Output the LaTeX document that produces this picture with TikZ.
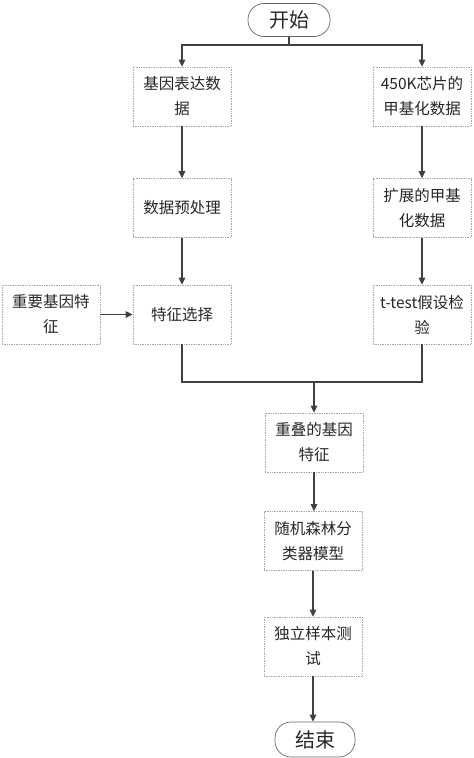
\documentclass[tikz,border=0pt]{standalone}
\usepackage{fontspec}
\newfontfamily\cjk{Noto Sans CJK SC}
\usetikzlibrary{arrows.meta}
\begin{document}
\begin{tikzpicture}[x=1pt,y=-1pt,
  box/.style={draw=black!35, densely dotted, line width=0.7pt, minimum width=98pt, minimum height=59pt, align=center, font=\cjk\fontsize{15.5}{25}\selectfont, text=black!85, inner sep=1pt},
  term/.style={draw=black!60, line width=0.7pt, rounded corners=16pt, minimum width=82pt, minimum height=33pt, font=\cjk\fontsize{20}{22}\selectfont, text=black!85, inner sep=1pt},
  arr/.style={draw=black!75, line width=1.2pt, -{Triangle[length=7pt,width=6.5pt]}},
  ln/.style={draw=black!75, line width=1.2pt}]
\useasboundingbox (0,0) rectangle (474,758);
\node[term] (start) at (289,20) {开始};
\node[box] (b1) at (182,96.5) {基因表达数\\据};
\node[box] (b2) at (182,208) {数据预处理};
\node[box] (b3) at (182,314.5) {特征选择};
\node[box] (side) at (51,314.5) {重要基因特\\征};
\node[box] (r1) at (422,96.5) {450K芯片的\\甲基化数据};
\node[box] (r2) at (422,208) {扩展的甲基\\化数据};
\node[box] (r3) at (422,314.5) {t-test假设检\\验};
\node[box] (m1) at (314,442.5) {重叠的基因\\特征};
\node[box] (m2) at (313,541) {随机森林分\\类器模型};
\node[box] (m3) at (313,646.5) {独立样本测\\试};
\node[term, minimum width=80pt, minimum height=35pt] (end) at (315,739.5) {结束};
\coordinate (j1) at (289,45);
\coordinate (j2) at (314,382);
\draw[ln] (start.south) -- (j1);
\draw[arr] (j1) -| (b1.north);
\draw[arr] (j1) -| (r1.north);
\draw[arr] (b1) -- (b2);
\draw[arr] (b2) -- (b3);
\draw[arr] (r1) -- (r2);
\draw[arr] (r2) -- (r3);
\draw[arr] (side) -- (b3);
\draw[ln] (b3.south) |- (r3.south |- j2) -- (r3.south);
\draw[arr] (j2) -- (m1.north);
\draw[arr] (m1.south) -- (m1.south |- m2.north);
\draw[arr] (m2) -- (m3);
\draw[arr] (m3.south) -- (m3.south |- end.north);
\end{tikzpicture}
\end{document}
